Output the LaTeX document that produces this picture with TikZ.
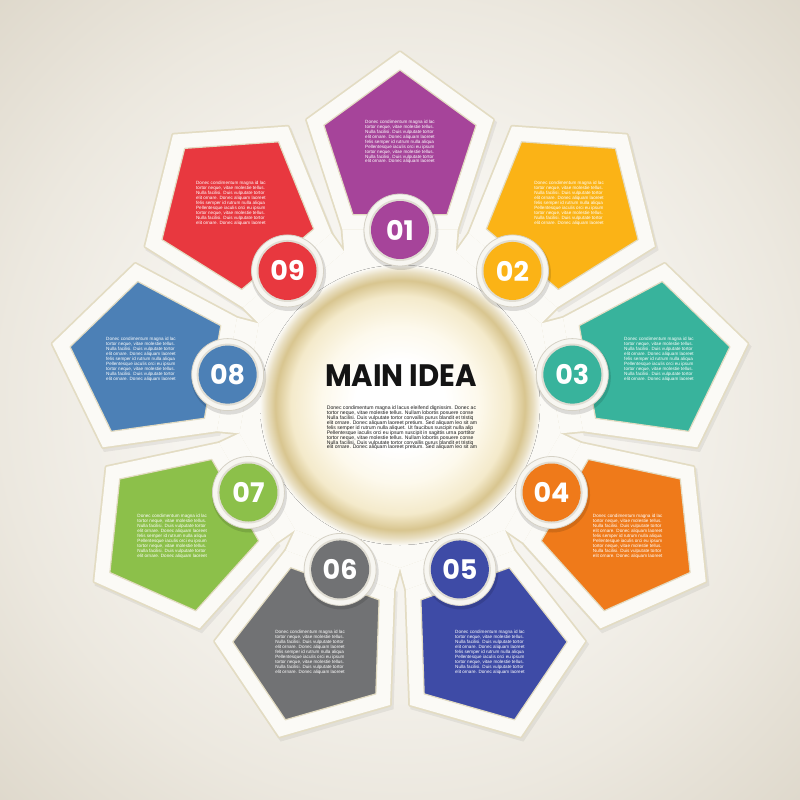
\documentclass[tikz,border=0pt]{standalone}
\usepackage{fontspec}
\usepackage{graphicx}
\setmainfont{Liberation Sans}
\newfontfamily\popfont{Poppins}
\usetikzlibrary{calc}
\definecolor{c1}{HTML}{A6449A}
\definecolor{c2}{HTML}{FBB316}
\definecolor{c3}{HTML}{38B39C}
\definecolor{c4}{HTML}{EF7A1A}
\definecolor{c5}{HTML}{3E4BA6}
\definecolor{c6}{HTML}{717274}
\definecolor{c7}{HTML}{8CC04A}
\definecolor{c8}{HTML}{4C80B6}
\definecolor{c9}{HTML}{E8383F}
\definecolor{bg0}{HTML}{F6F4EF}
\definecolor{bg1}{HTML}{ECE8DF}
\definecolor{bg2}{HTML}{DED8CB}
\definecolor{cream}{HTML}{E3DCC3}
\definecolor{bdw}{HTML}{FBFAF6}
\definecolor{mA}{HTML}{FDF9EC}
\definecolor{mB}{HTML}{F4EACB}
\definecolor{mC}{HTML}{D8C58F}
\definecolor{mD}{HTML}{E9DFC2}
\definecolor{ringc}{HTML}{F7F6F1}
\definecolor{ringe}{HTML}{D5D1C5}
\definecolor{ringi}{HTML}{E0DDD3}
\pgfdeclareradialshading{bgsh}{\pgfpoint{0bp}{0bp}}{color(0bp)=(bg0); color(14bp)=(bg0); color(25bp)=(bg1); color(36bp)=(bg2); color(50bp)=(bg2)}
\pgfdeclareradialshading{mainsh}{\pgfpoint{0bp}{0bp}}{color(0bp)=(white); color(8bp)=(white); color(14bp)=(mA); color(19.5bp)=(mB); color(22.3bp)=(mC); color(23.8bp)=(mD); color(25bp)=(bdw); color(50bp)=(bdw)}
\newcommand\ptxt{Donec condimentum magna id lac\\tortor neque, vitae molestie tellus.\\Nulla facilisi. Duis vulputate tortor\\elit ornare. Donec aliquam laoreet\\felis semper id rutrum nulla aliqua\\Pellentesque iaculis orci eu ipsum\\tortor neque, vitae molestie tellus.\\Nulla facilisi. Duis vulputate tortor\\elit ornare. Donec aliquam laoreet}
\tikzset{
  pent/.style n args={4}{insert path={({#1+#3*cos(#4)},{#2-#3*sin(#4)}) -- ({#1+#3*cos(#4+72)},{#2-#3*sin(#4+72)}) -- ({#1+#3*cos(#4+144)},{#2-#3*sin(#4+144)}) -- ({#1+#3*cos(#4+216)},{#2-#3*sin(#4+216)}) -- ({#1+#3*cos(#4+288)},{#2-#3*sin(#4+288)}) -- cycle}},
  arm/.style n args={3}{insert path={({400+163*cos(#3+20)},{405-163*sin(#3+20)}) -- ({#1+98*cos(#3+144)},{#2-98*sin(#3+144)}) -- ({#1+98*cos(#3-144)},{#2-98*sin(#3-144)}) -- ({400+163*cos(#3-20)},{405-163*sin(#3-20)}) -- cycle}},
  outl/.style={draw=cream, line width=3.5, line join=round},
  shad/.style={fill=black, opacity=0.06},
  ptext/.style={text=white, font=\fontsize{4.6}{4.95}\selectfont, align=left, inner sep=0},
  numtext/.style={text=white, font=\popfont\bfseries\fontsize{27}{27}\selectfont, inner sep=0},
}
\begin{document}
\begin{tikzpicture}[x=1pt,y=-1pt]
\useasboundingbox (0,0) rectangle (800,800);
\fill[shading=bgsh] (0,0) rectangle (800,800);
% shadow pass
\begin{scope}[shift={(2,3)}]
\foreach \i in {1,...,9}{
  \pgfmathsetmacro\a{90-40*(\i-1)}
  \pgfmathsetmacro\px{400+255*cos(\a)}
  \pgfmathsetmacro\py{405-255*sin(\a)}
  \path[shad, pent={\px}{\py}{100}{\a}];
}
\end{scope}
% outline pass
\foreach \i in {1,...,9}{
  \pgfmathsetmacro\a{90-40*(\i-1)}
  \pgfmathsetmacro\px{400+255*cos(\a)}
  \pgfmathsetmacro\py{405-255*sin(\a)}
  \path[outl, pent={\px}{\py}{98}{\a}];
  \path[outl, arm={\px}{\py}{\a}];
}
\draw[outl] ({400+163*cos(70)},{405-163*sin(70)}) \foreach \k in {1,...,8}{ -- ({400+163*cos(70-40*\k)},{405-163*sin(70-40*\k)}) } -- cycle;
% fill pass
\foreach \i in {1,...,9}{
  \pgfmathsetmacro\a{90-40*(\i-1)}
  \pgfmathsetmacro\px{400+255*cos(\a)}
  \pgfmathsetmacro\py{405-255*sin(\a)}
  \path[fill=bdw, pent={\px}{\py}{98}{\a}];
  \path[fill=bdw, arm={\px}{\py}{\a}];
}
\fill[bdw] ({400+163*cos(70)},{405-163*sin(70)}) \foreach \k in {1,...,8}{ -- ({400+163*cos(70-40*\k)},{405-163*sin(70-40*\k)}) } -- cycle;
% coloured pentagons and texts
\foreach \i/\col in {1/c1,2/c2,3/c3,4/c4,5/c5,6/c6,7/c7,8/c8,9/c9}{
  \pgfmathsetmacro\a{90-40*(\i-1)}
  \pgfmathsetmacro\px{400+255*cos(\a)}
  \pgfmathsetmacro\py{405-255*sin(\a)}
  \path[fill=\col, draw=cream, line width=1.2, line join=round, pent={\px}{\py}{80}{\a}];
  \node[ptext] (t\i) at ({\px+8*cos(\a)},{\py-8*sin(\a)}) {\ptxt};
}
% main circle
\fill[shading=mainsh] (400,405) circle (140);
\node[font=\popfont\bfseries\fontsize{31}{31}\selectfont, text=black!92, inner sep=0] (main) at (401,376) {\scalebox{0.94}[1]{MAIN IDEA}};
\node[font=\fontsize{5.1}{4.9}\selectfont, text=black!90, align=left, inner sep=0] (maintext) at (402,428) {Donec condimentum magna id lacus eleifend dignissim. Donec ac\\tortor neque, vitae molestie tellus. Nullam lobortis posuere conse\\Nulla facilisi. Duis vulputate tortor convallis purus blandit et tristiq\\elit ornare. Donec aliquam laoreet pretium. Sed aliquam leo sit am\\felis semper id rutrum nulla aliquet. Ut faucibus suscipit nulla alip\\Pellentesque iaculis orci eu ipsum suscipit in sagittis urna porttitor\\tortor neque, vitae molestie tellus. Nullam lobortis posuere conse\\Nulla facilisi. Duis vulputate tortor convallis purus blandit et tristiq\\elit ornare. Donec aliquam laoreet pretium. Sed aliquam leo sit am};
% badges
\foreach \i/\col in {1/c1,2/c2,3/c3,4/c4,5/c5,6/c6,7/c7,8/c8,9/c9}{
  \pgfmathsetmacro\a{90-40*(\i-1)}
  \pgfmathsetmacro\bx{400+175*cos(\a)}
  \pgfmathsetmacro\by{405-175*sin(\a)}
  \fill[black, opacity=0.12] (\bx+1,\by+2.5) circle (37.5);
  \draw[fill=ringc, draw=ringe, line width=0.8] (\bx,\by) circle (36);
  \fill[ringi] (\bx,\by) circle (31);
  \fill[\col] (\bx,\by) circle (29);
  \node[numtext] (n\i) at (\bx,\by) {0\i};
}
\end{tikzpicture}
\end{document}
